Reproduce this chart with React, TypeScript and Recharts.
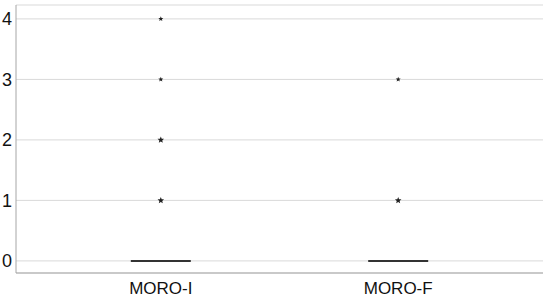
import {
  ComposedChart,
  Scatter,
  XAxis,
  YAxis,
  CartesianGrid,
} from "recharts";

const categories = ["MORO-I", "MORO-F"];
const medians = [0, 0];
const outliersMoroI = [1, 2, 3, 4];
const outlierCountsMoroI = [2, 2, 1, 1];
const outliersMoroF = [1, 3];
const outlierCountsMoroF = [2, 1];
const yTicks = [0, 1, 2, 3, 4];

const medianData = medians.map((m, i) => ({ x: i, y: m }));
const outlierData = [
  ...outliersMoroI.map((v, j) => ({ x: 0, y: v, n: outlierCountsMoroI[j] })),
  ...outliersMoroF.map((v, j) => ({ x: 1, y: v, n: outlierCountsMoroF[j] })),
];

// flat median line, the box collapses to it since Q1 = Q3 = 0
const MedianLine = (props: any) => {
  const { cx, cy } = props;
  return (
    <line x1={cx - 30} x2={cx + 30} y1={cy} y2={cy} stroke="#333" strokeWidth={2} />
  );
};

// SPSS style extreme value marker
const Star = (props: any) => {
  const { cx, cy, payload } = props;
  const outer = payload.n > 1 ? 3.4 : 2.6;
  const inner = outer * 0.45;
  const pts: string[] = [];
  for (let k = 0; k < 10; k++) {
    const r = k % 2 === 0 ? outer : inner;
    const a = -Math.PI / 2 + (k * Math.PI) / 5;
    pts.push(`${cx + r * Math.cos(a)},${cy + r * Math.sin(a)}`);
  }
  return <polygon points={pts.join(" ")} fill="#222" />;
};

export default function App() {
  return (
    <div
      style={{
        position: "fixed",
        left: 0,
        top: 0,
        background: "#fff",
        fontFamily: "'Liberation Sans', Arial, sans-serif",
      }}
    >
      <ComposedChart
        width={550}
        height={299}
        margin={{ top: 5, right: 7, left: 0, bottom: 0 }}
      >
        <CartesianGrid stroke="#d9d9d9" vertical={false} />
        <XAxis
          type="number"
          dataKey="x"
          domain={[-0.61, 1.61]}
          ticks={[0, 1]}
          tickFormatter={(i: number) => categories[i]}
          height={26}
          stroke="#a6a6a6"
          tickLine={false}
          tickSize={0}
          tickMargin={9}
          tick={{ fontSize: 17, fill: "#111" }}
        />
        <YAxis
          type="number"
          dataKey="y"
          domain={[-0.2, 4.23]}
          ticks={yTicks}
          width={16}
          stroke="#a6a6a6"
          tickLine={false}
          tickSize={0}
          tickMargin={4}
          tick={{ fontSize: 18, fill: "#111" }}
        />
        <Scatter data={medianData} shape={<MedianLine />} isAnimationActive={false} />
        <Scatter data={outlierData} shape={<Star />} isAnimationActive={false} />
      </ComposedChart>
    </div>
  );
}
